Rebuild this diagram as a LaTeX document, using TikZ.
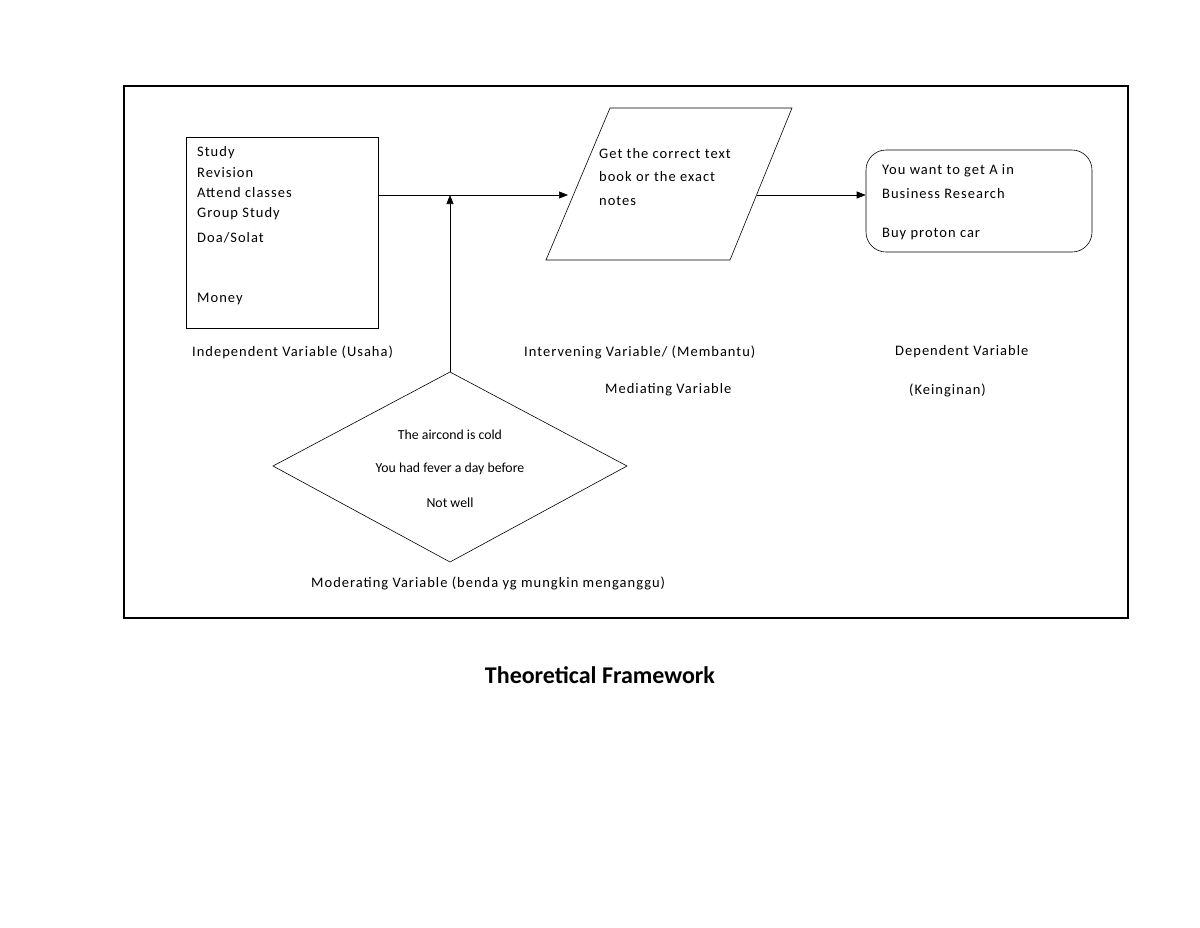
\documentclass[tikz,border=0pt]{standalone}
\usepackage{fontspec}
\setmainfont{Carlito}
\newfontfamily\spaced{Carlito}[LetterSpace=7]
\usetikzlibrary{arrows.meta}
\begin{document}
\begin{tikzpicture}[x=1pt,y=-1pt,
  lbl/.style={anchor=west,inner sep=0,font=\spaced\fontsize{14.5}{16}\selectfont},
  small/.style={anchor=center,inner sep=0,font=\fontsize{13.8}{15}\selectfont},
  arr/.style={-{Triangle[length=9pt,width=7pt]},line width=0.6pt}]
\useasboundingbox (0,0) rectangle (1200,927);
\draw[line width=2.5pt] (124,86) rectangle (1128,618);
\node[draw,line width=0.6pt,minimum width=192pt,minimum height=191pt,inner sep=0] (iv) at (282,232.5) {};
\node[lbl] (t1) at (197,153) {Study};
\node[lbl] (t2) at (197,173) {Revision};
\node[lbl] (t3) at (197,193) {Attend classes};
\node[lbl] (t4) at (197,214) {Group Study};
\node[lbl] (t5) at (197,238) {Doa/Solat};
\node[lbl] (t6) at (197,299) {Money};
\coordinate (p1) at (610,108); \coordinate (p2) at (792,108);
\coordinate (p3) at (730,260); \coordinate (p4) at (546,260);
\draw[line width=0.6pt] (p1)--(p2)--(p3)--(p4)--cycle;
\coordinate (pl) at (568,195); \coordinate (pr) at (757,195);
\node[lbl] at (599,154) {Get the correct text};
\node[lbl] at (599,177) {book or the exact};
\node[lbl] at (599,201) {notes};
\node[draw,line width=0.6pt,rounded corners=20pt,minimum width=226pt,minimum height=102pt,inner sep=0] (dv) at (979,201) {};
\node[lbl] at (882,171) {You want to get A in};
\node[lbl] at (882,194) {Business Research};
\node[lbl] at (882,234) {Buy proton car};
\coordinate (ivr) at (378,195);
\coordinate (mid) at (450,195);
\draw[arr] (ivr) -- (pl);
\draw[arr] (pr) -- (dv.west|-pr);
\coordinate (dt) at (450,372); \coordinate (dl) at (273,466);
\coordinate (dr) at (627,466); \coordinate (db) at (450,562);
\draw[line width=0.6pt] (dt)--(dr)--(db)--(dl)--cycle;
\draw[arr] (dt) -- (mid);
\node[small] at (450,435) {The aircond is cold};
\node[small] at (450,469) {You had fever a day before};
\node[small] at (450,503) {Not well};
\node[lbl] at (192,352) {Independent Variable (Usaha)};
\node[lbl] at (524,352) {Intervening Variable/ (Membantu)};
\node[lbl] at (605,390) {Mediating Variable};
\node[lbl] at (895,352) {Dependent Variable};
\node[lbl] at (909,390) {(Keinginan)};
\node[lbl] at (311,583) {Moderating Variable (benda yg mungkin menganggu)};
\node[inner sep=0,font=\fontsize{24}{27}\selectfont\bfseries] at (600,675) {Theoretical Framework};
\end{tikzpicture}
\end{document}
